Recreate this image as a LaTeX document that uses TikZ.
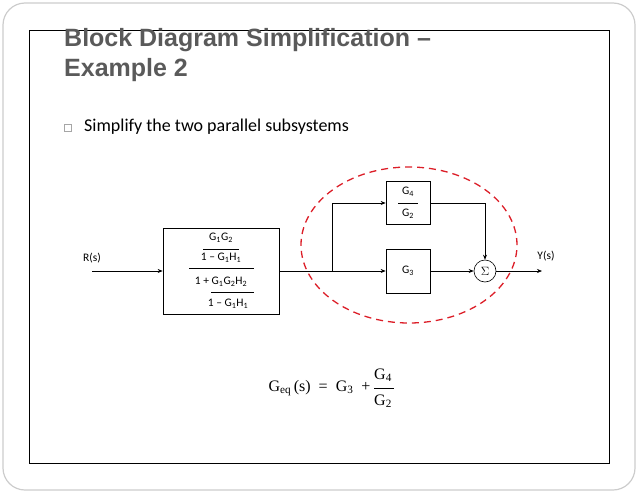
\documentclass[tikz,border=0pt]{standalone}
\usepackage{fontspec}
\setmainfont{Carlito}
\newfontfamily\titlefont{Liberation Sans}
\newfontfamily\eqfont{Liberation Serif}
\usetikzlibrary{arrows.meta}
\definecolor{titlegray}{RGB}{90,90,90}
\definecolor{dashred}{RGB}{220,30,40}
\begin{document}
\begin{tikzpicture}[x=1pt,y=-1pt,
  blk/.style={draw,line width=0.7pt,minimum width=44pt,minimum height=44pt,inner sep=0pt,font=\fontsize{11.5}{13}\selectfont},
  sig/.style={line width=0.6pt,-{Stealth[length=5pt,width=4pt]}},
  wire/.style={line width=0.6pt},
  lbl/.style={font=\fontsize{11.5}{13}\selectfont}]
\useasboundingbox (0,0) rectangle (638,493);
\draw[gray!40,line width=1.2pt,rounded corners=22pt] (3,3) rectangle (635,490);
\draw[line width=0.7pt] (29,30) rectangle (609,463);
\node[anchor=base west,font=\titlefont\bfseries\fontsize{25}{29}\selectfont,text=titlegray,inner sep=0pt] (t1) at (64,46) {Block Diagram Simplification –};
\node[anchor=base west,font=\titlefont\bfseries\fontsize{25}{29}\selectfont,text=titlegray,inner sep=0pt] (t2) at (64,76) {Example 2};
\node[draw=gray!70,minimum size=7pt,inner sep=0pt] (bul) at (68,128) {};
\node[anchor=west,font=\fontsize{18}{21}\selectfont,inner sep=0pt] (bt) at (84,127) {Simplify the two parallel subsystems};
% diagram
\node[blk,minimum width=116pt,minimum height=86pt] (B1) at (221,271) {};
\node[lbl] (n1) at (221,238) {G\textsubscript{1}G\textsubscript{2}};
\draw[wire,line width=0.5pt] (203,249) -- (239,249);
\node[lbl] (n2) at (221,258) {1 – G\textsubscript{1}H\textsubscript{1}};
\draw[wire,line width=0.5pt] (189,268) -- (254,268);
\node[lbl] (n3) at (221,282) {1 + G\textsubscript{1}G\textsubscript{2}H\textsubscript{2}};
\draw[wire,line width=0.5pt] (211,292) -- (254,292);
\node[lbl] (n4) at (228,304) {1 – G\textsubscript{1}H\textsubscript{1}};
\node[blk,minimum height=43pt] (G4) at (408,203) {};
\node[lbl] (g4) at (408,192) {G\textsubscript{4}};
\draw[wire,line width=0.5pt] (398,203) -- (418,203);
\node[lbl] (g2) at (408,214) {G\textsubscript{2}};
\node[blk] (G3) at (408,271) {G\textsubscript{3}};
\node[draw,circle,line width=0.6pt,minimum size=22pt,inner sep=0pt,font=\large] (S) at (485,271) {$\Sigma$};
\node[lbl,anchor=south] (R) at (92,267) {R(s)};
\node[lbl,anchor=south] (Y) at (546,265) {Y(s)};
\coordinate (rin) at (92,271);
\coordinate (yout) at (542,271);
\coordinate (J) at (332,271);
\draw[sig] (rin) -- (B1);
\draw[sig] (B1) -- (G3);
\draw[sig] (J) |- (G4);
\draw[sig] (G4.east) -| (S.north);
\draw[sig] (G3) -- (S);
\draw[sig] (S) -- (yout);
\draw[dashred,line width=1.3pt,dash pattern=on 7pt off 5pt] (409,245) ellipse [x radius=108pt,y radius=78pt];
% equation
\node[font=\eqfont\fontsize{16}{19}\selectfont,anchor=east] (eq) at (374,388) {G\textsubscript{eq}\,(s)\ \ =\ \ G\textsubscript{3}\ \ +};
\node[font=\eqfont\fontsize{16}{19}\selectfont,anchor=west,inner sep=0pt] (f1) at (374,375) {G\textsubscript{4}};
\draw[line width=0.6pt] (374,388) -- (394,388);
\node[font=\eqfont\fontsize{16}{19}\selectfont,anchor=west,inner sep=0pt] (f2) at (374,401) {G\textsubscript{2}};
\end{tikzpicture}
\end{document}
